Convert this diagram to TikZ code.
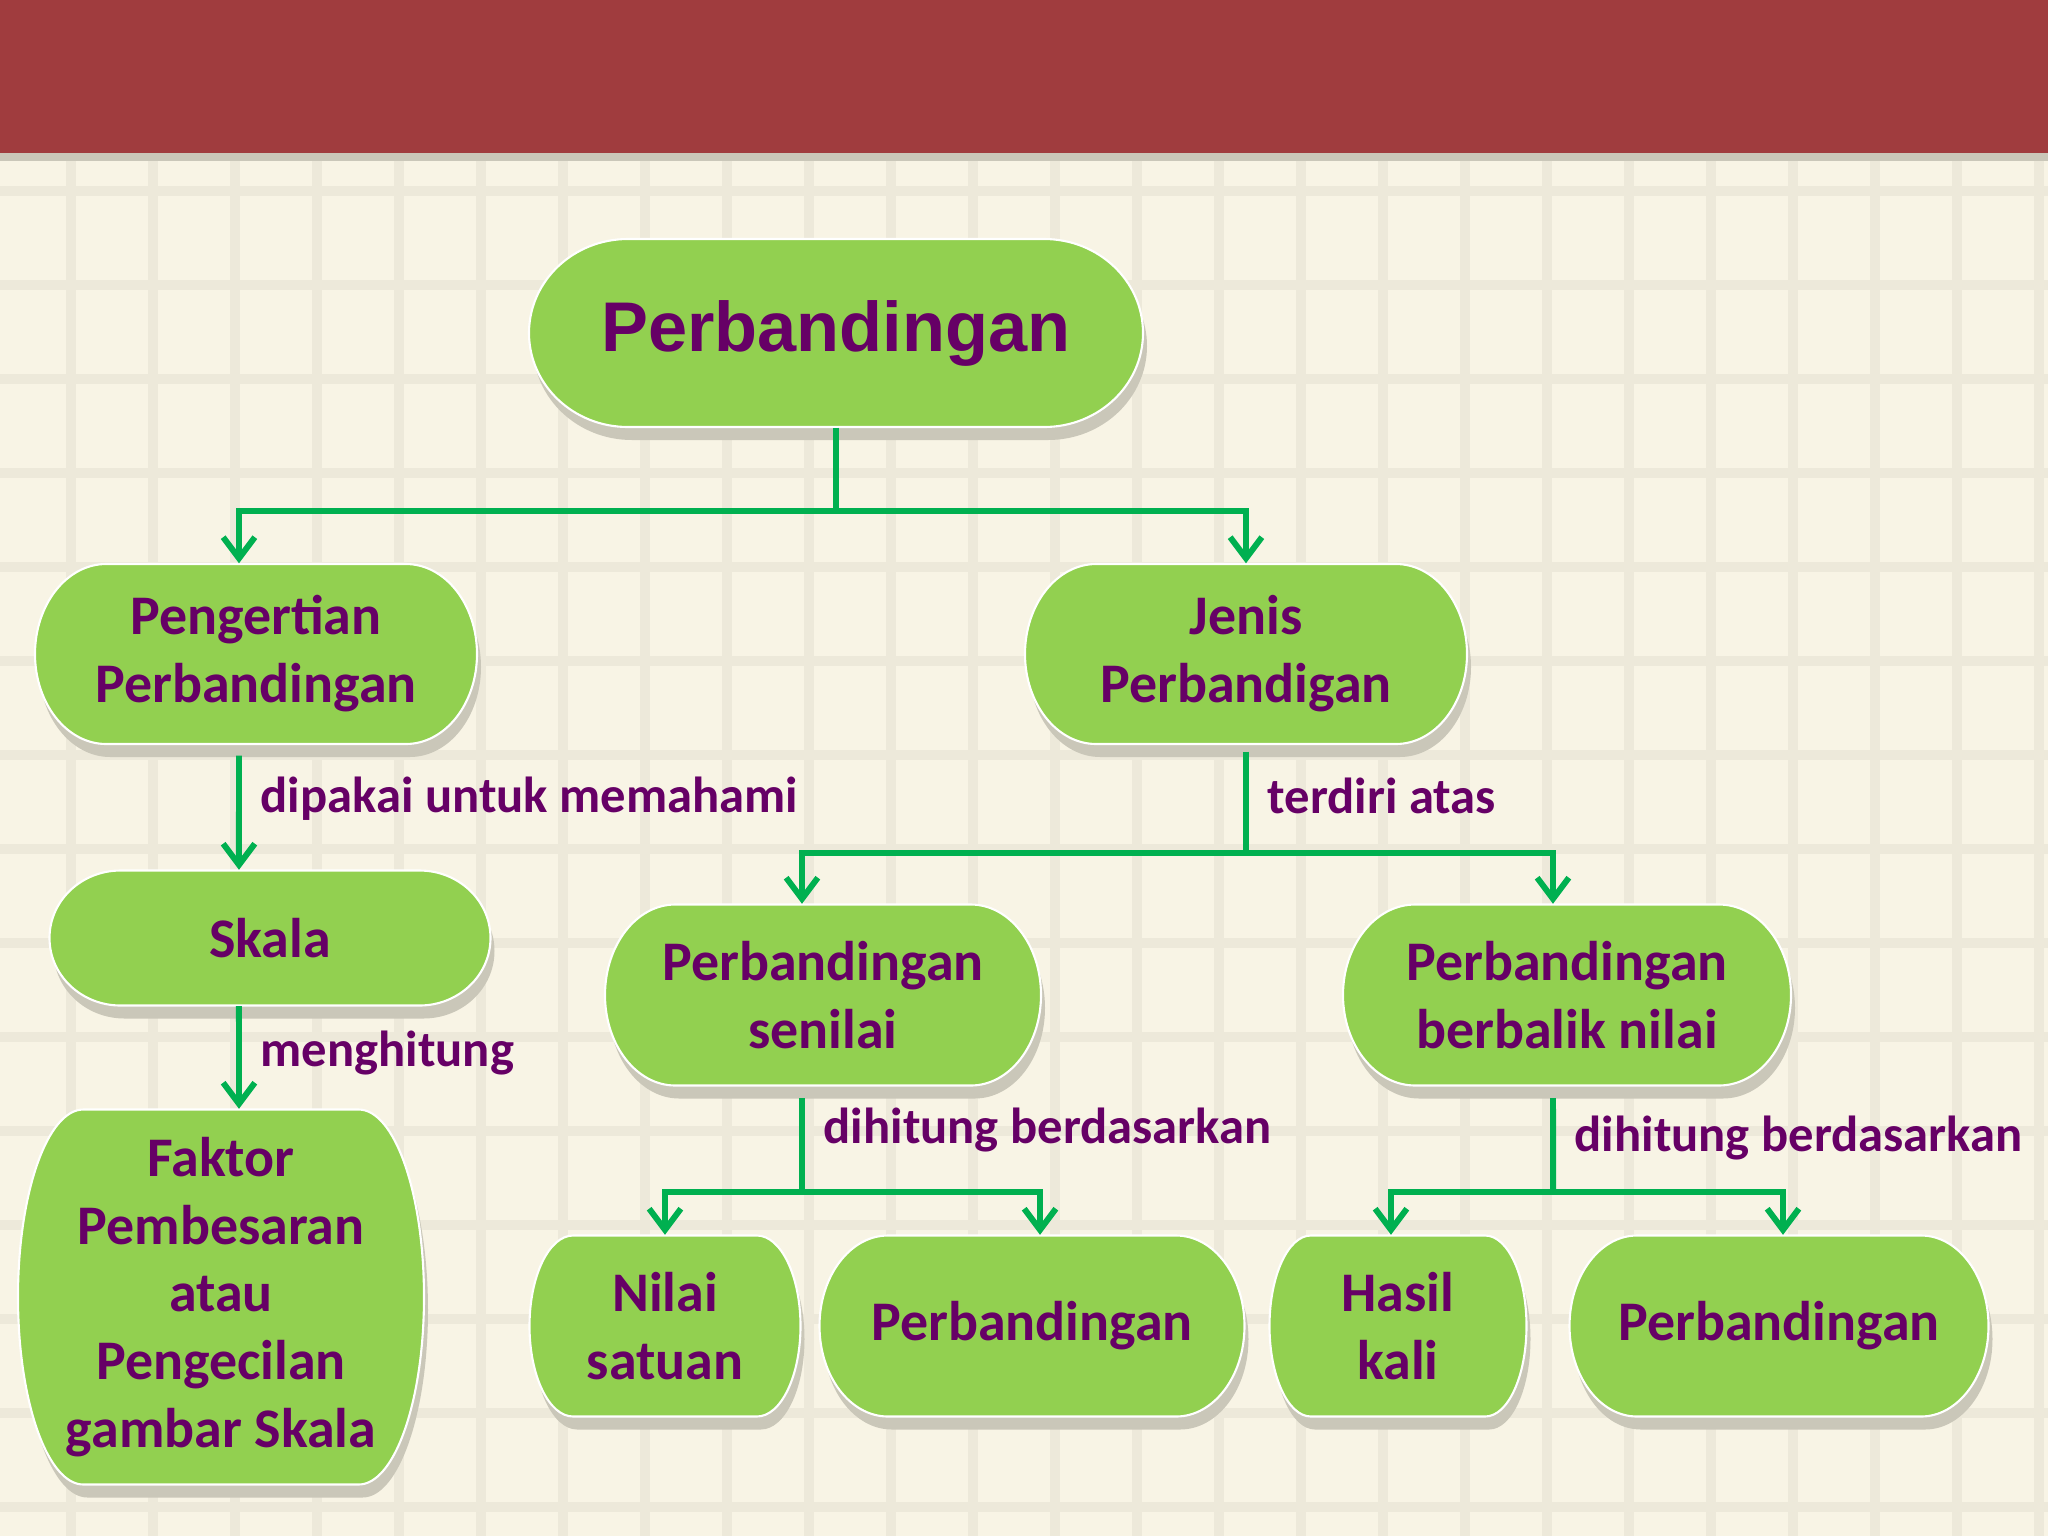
\documentclass[tikz,border=0pt]{standalone}
\usepackage{fontspec}
\setmainfont{Carlito}
\newfontfamily\headfont{Liberation Sans}
\usetikzlibrary{arrows.meta}

\definecolor{bandred}{RGB}{160,60,62}
\definecolor{paper}{RGB}{248,244,229}
\definecolor{gridc}{RGB}{237,233,218}
\definecolor{boxgreen}{RGB}{146,208,80}
\definecolor{boxshadow}{RGB}{202,199,185}
\definecolor{linkgreen}{RGB}{0,176,80}
\definecolor{txtpurple}{RGB}{102,0,102}

\tikzset{
  gridline/.style={gridc, line width=2.8pt},
  boxbody/.style={fill=boxgreen, draw=white, line width=0.6pt},
  boxshade/.style={fill=boxshadow},
  boxtext/.style={inner sep=0pt, align=center, text=txtpurple,
    font=\bfseries\fontsize{15.9}{19.3}\selectfont},
  lbl/.style={anchor=west, inner sep=0pt, text=txtpurple,
    font=\bfseries\fontsize{14.4}{17}\selectfont},
  link/.style={linkgreen, line width=1.7pt},
  arr/.style={link, -{Straight Barb[length=6pt,width=9pt]}}
}

% terminator box: name, cx, cy, w, h, text
\newcommand\termbox[6]{%
  \pgfmathsetmacro\ends{0.161*#4}
  \path[boxshade, shift={(4,13)}] (#2-#4/2+\ends,#3-#5/2) -- ++(#4-2*\ends,0)
    arc[start angle=-90,end angle=90,x radius=\ends,y radius=#5/2] -- ++(2*\ends-#4,0)
    arc[start angle=90,end angle=270,x radius=\ends,y radius=#5/2] -- cycle;
  \path[boxbody] (#2-#4/2+\ends,#3-#5/2) -- ++(#4-2*\ends,0)
    arc[start angle=-90,end angle=90,x radius=\ends,y radius=#5/2] -- ++(2*\ends-#4,0)
    arc[start angle=90,end angle=270,x radius=\ends,y radius=#5/2] -- cycle;
  \node[boxtext, minimum width={#4*0.01cm}, minimum height={#5*0.01cm}] (#1) at (#2,#3) {#6};
}

\begin{document}
\begin{tikzpicture}[x=0.01cm,y=-0.01cm]
  \useasboundingbox (0,0) rectangle (2048,1536);
  \fill[paper] (0,0) rectangle (2048,1536);
  % squared paper
  \foreach \x in {71,153,...,2048} \draw[gridline] (\x,153) -- (\x,1536);
  \foreach \y in {191,285,...,1536} \draw[gridline] (0,\y) -- (2048,\y);
  % title band
  \fill[boxshadow] (0,153) rectangle (2048,161);
  \fill[bandred] (0,0) rectangle (2048,153);

  % boxes
  \termbox{top}{836}{333}{614}{188}{\headfont\fontsize{20}{24}\selectfont Perbandingan}
  \termbox{peng}{256}{654}{442}{180}{Pengertian\\Perbandingan}
  \termbox{jenis}{1246}{654}{442}{180}{Jenis\\Perbandigan}
  \termbox{skala}{270}{938}{441}{135}{Skala}
  \termbox{faktor}{221}{1297}{406}{375}{Faktor\\Pembesaran\\atau\\Pengecilan\\gambar Skala}
  \termbox{senilai}{823}{995}{436}{181}{Perbandingan\\senilai}
  \termbox{balik}{1567}{995}{448}{181}{Perbandingan\\berbalik nilai}
  \termbox{nilai}{665}{1326}{271}{181}{Nilai\\satuan}
  \termbox{pbA}{1032}{1326}{425}{181}{Perbandingan}
  \termbox{hasil}{1398}{1326}{257}{181}{Hasil\\kali}
  \termbox{pbB}{1779}{1326}{419}{181}{Perbandingan}

  % connectors
  \coordinate (topfork) at (836,511);
  \draw[link] (top.south) -- (topfork);
  \draw[arr] (topfork) -| ([xshift=-0.17cm]peng.north);
  \draw[arr] (topfork) -| (jenis.north);
  \draw[arr] ([xshift=-0.17cm,yshift=-0.11cm]peng.south) -- ([xshift=-0.31cm]skala.north);
  \draw[arr] ([xshift=-0.31cm]skala.south) -- ([xshift=0.18cm]faktor.north);
  \coordinate (jenisfork) at (1246,853);
  \draw[link] ([yshift=-0.07cm]jenis.south) -- (jenisfork);
  \draw[arr] (jenisfork) -| ([xshift=-0.21cm]senilai.north);
  \draw[arr] (jenisfork) -| ([xshift=-0.14cm]balik.north);
  \coordinate (senfork) at (802,1192);
  \draw[link] ([xshift=-0.21cm,yshift=-0.12cm]senilai.south) -- (senfork);
  \draw[arr] (senfork) -| (nilai.north);
  \draw[arr] (senfork) -| ([xshift=0.08cm]pbA.north);
  \coordinate (balfork) at (1553,1192);
  \draw[link] ([xshift=-0.14cm,yshift=-0.12cm]balik.south) -- (balfork);
  \draw[arr] (balfork) -| ([xshift=-0.07cm]hasil.north);
  \draw[arr] (balfork) -| ([xshift=0.04cm]pbB.north);

  % labels
  \node[lbl] (usefor) at (260,799) {dipakai untuk memahami};
  \node[lbl] (counts) at (260,1053) {menghitung};
  \node[lbl] (consists) at (1267,796) {terdiri atas};
  \node[lbl] (basisA) at (823,1130) {dihitung berdasarkan};
  \node[lbl] (basisB) at (1574,1138) {dihitung berdasarkan};
\end{tikzpicture}
\end{document}
